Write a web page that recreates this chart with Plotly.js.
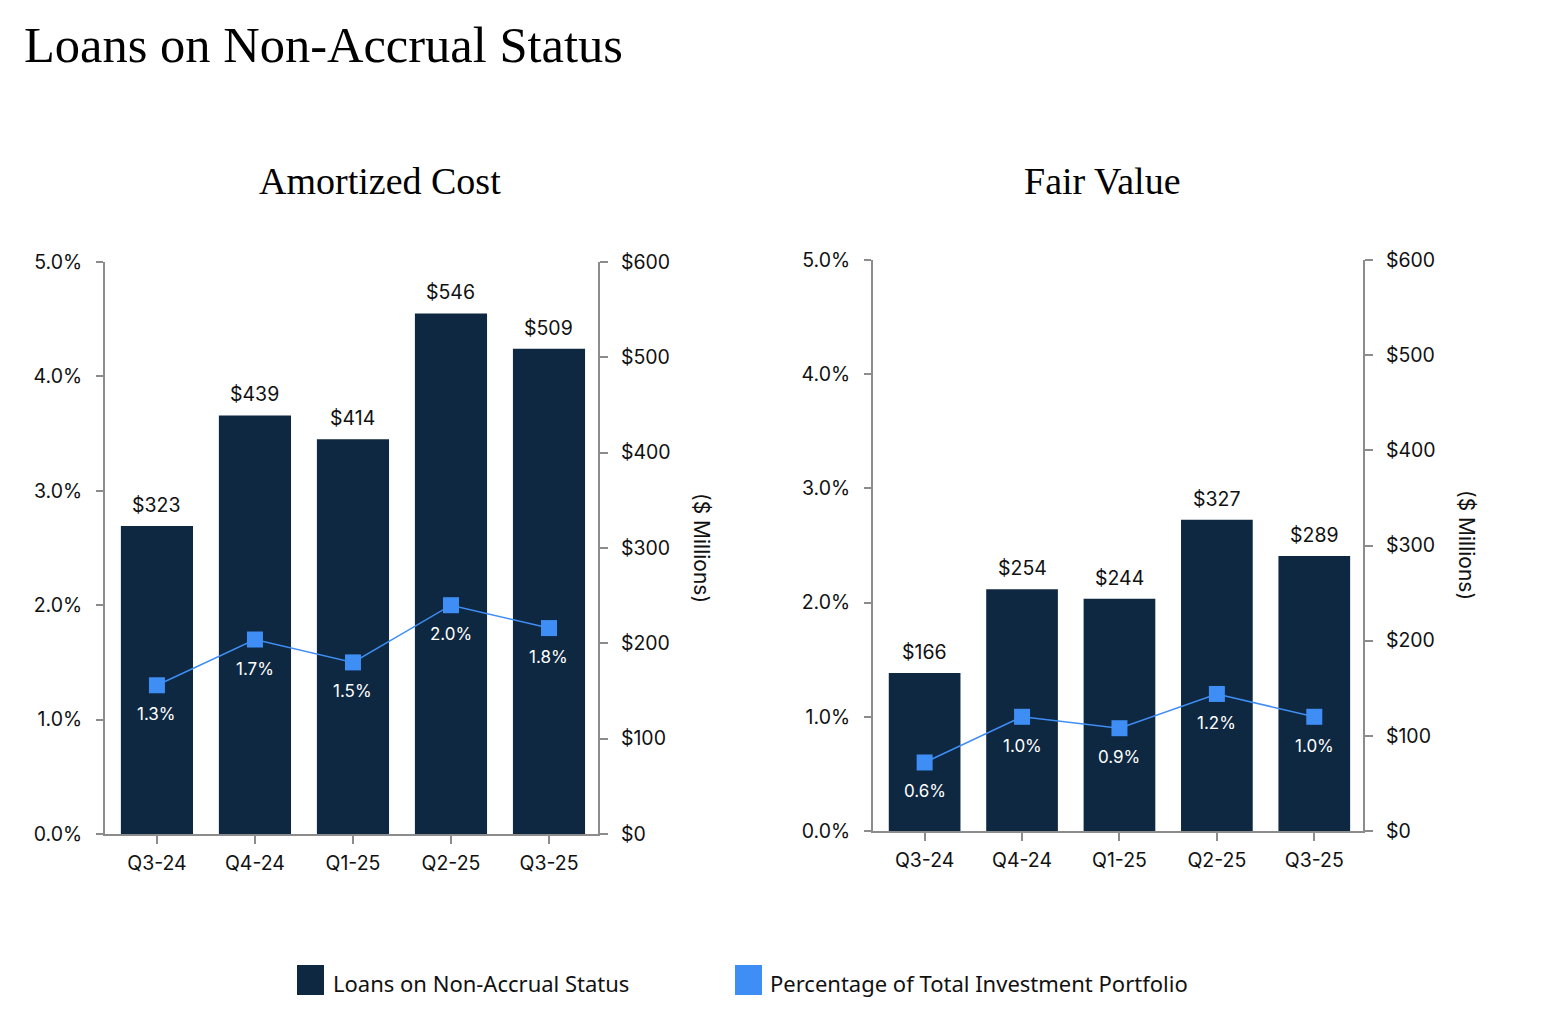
<!DOCTYPE html>
<html>
<head>
<meta charset="utf-8">
<script src="https://cdn.plot.ly/plotly-3.0.1.min.js"></script>
<style>
  html, body { margin: 0; padding: 0; background: #ffffff; }
  #chart { width: 1556px; height: 1032px; }
</style>
</head>
<body>
<div id="chart"></div>
<script>
// Quarterly periods
const quarters = ['Q3-24', 'Q4-24', 'Q1-25', 'Q2-25', 'Q3-25'];

// Amortized cost basis
const amortizedLoans = [323, 439, 414, 546, 509];   // $ millions
const amortizedPct = [1.3, 1.7, 1.5, 2.0, 1.8];     // % of total investment portfolio

// Fair value basis
const fairLoans = [166, 254, 244, 327, 289];        // $ millions
const fairPct = [0.6, 1.0, 0.9, 1.2, 1.0];          // % of total investment portfolio

const pctTicks = [0, 1, 2, 3, 4, 5];
const usdTicks = [0, 100, 200, 300, 400, 500, 600];

const BAR_COLOR = '#0E2841';
const LINE_COLOR = '#3F8EF5';
const AXIS_COLOR = '#8C8C8C';
const SANS = 'Inter, "Noto Sans", sans-serif';
const SERIF = '"Liberation Serif", "DejaVu Serif", serif';
const LEGEND_FONT = '"Noto Sans", Roboto, sans-serif';

const W = 1556, H = 1032;
const px = v => v / W;
const py = v => 1 - v / H;

function barTrace(vals, xa, ya) {
  return {
    type: 'bar', x: quarters, y: vals, xaxis: xa, yaxis: ya,
    marker: { color: BAR_COLOR }, hoverinfo: 'x+y', name: 'Loans on Non-Accrual Status'
  };
}
function lineTrace(vals, xa, ya) {
  return {
    type: 'scatter', mode: 'lines+markers', x: quarters, y: vals, xaxis: xa, yaxis: ya,
    line: { color: LINE_COLOR, width: 1.5 },
    marker: { symbol: 'square', size: 16, color: LINE_COLOR },
    name: 'Percentage of Total Investment Portfolio'
  };
}

const data = [
  barTrace(amortizedLoans, 'x', 'y'),
  lineTrace(amortizedPct, 'x', 'y2'),
  barTrace(fairLoans, 'x2', 'y3'),
  lineTrace(fairPct, 'x2', 'y4')
];

const tickCommon = {
  showline: true, linecolor: AXIS_COLOR, linewidth: 2,
  ticks: 'outside', tickcolor: AXIS_COLOR, tickwidth: 2,
  showgrid: false, zeroline: false, fixedrange: true,
  tickfont: { family: SANS, size: 19.5, color: '#111111' }
};

function xAxis(domain, anchor) {
  return Object.assign({}, tickCommon, {
    domain: domain, anchor: anchor, type: 'category', range: [-0.53, 4.5],
    ticklen: 8, ticklabelstandoff: 3
  });
}
function usdAxis(domain, anchor) {
  return Object.assign({}, tickCommon, {
    domain: domain, anchor: anchor, side: 'right', range: [0, 600],
    tickvals: usdTicks, ticktext: usdTicks.map(v => '$' + v),
    ticklen: 8, ticklabelstandoff: 9
  });
}
function pctAxis(overlay, anchor) {
  return Object.assign({}, tickCommon, {
    overlaying: overlay, anchor: anchor, side: 'left', range: [0, 5],
    tickvals: pctTicks, ticktext: pctTicks.map(v => v.toFixed(1) + '%'),
    ticklen: 7, ticklabelstandoff: 10
  });
}

const annotations = [];
function addLabels(xa, yUsd, yPct, loans, pcts) {
  quarters.forEach((q, i) => {
    annotations.push({
      xref: xa, yref: yUsd, x: q, y: loans[i], text: '$' + loans[i],
      showarrow: false, yanchor: 'bottom', yshift: 7,
      font: { family: SANS, size: 19.5, color: '#111111' }
    });
    annotations.push({
      xref: xa, yref: yPct, x: q, y: pcts[i], text: pcts[i].toFixed(1) + '%',
      showarrow: false, yanchor: 'middle', yshift: -29,
      font: { family: SANS, size: 17, color: '#FFFFFF' }
    });
  });
}
addLabels('x', 'y', 'y2', amortizedLoans, amortizedPct);
addLabels('x2', 'y3', 'y4', fairLoans, fairPct);

// Panel titles
annotations.push(
  { xref: 'paper', yref: 'paper', x: px(380), y: py(181), text: 'Amortized Cost', showarrow: false,
    xanchor: 'center', yanchor: 'middle', font: { family: SERIF, size: 38, color: '#000000' } },
  { xref: 'paper', yref: 'paper', x: px(1102), y: py(181), text: 'Fair Value', showarrow: false,
    xanchor: 'center', yanchor: 'middle', font: { family: SERIF, size: 38, color: '#000000' } }
);

// Right-axis unit labels, reading top to bottom
annotations.push(
  { xref: 'paper', yref: 'paper', x: px(702), y: py(548), text: '($ Millions)', showarrow: false,
    textangle: 90, xanchor: 'center', yanchor: 'middle', font: { family: SANS, size: 21, color: '#111111' } },
  { xref: 'paper', yref: 'paper', x: px(1467), y: py(545), text: '($ Millions)', showarrow: false,
    textangle: 90, xanchor: 'center', yanchor: 'middle', font: { family: SANS, size: 21, color: '#111111' } }
);

// Legend entries
annotations.push(
  { xref: 'paper', yref: 'paper', x: px(331), y: py(983), text: 'Loans on Non-Accrual Status', showarrow: false,
    xanchor: 'left', yanchor: 'middle', font: { family: LEGEND_FONT, size: 22, color: '#111111' } },
  { xref: 'paper', yref: 'paper', x: px(768), y: py(983), text: 'Percentage of Total Investment Portfolio', showarrow: false,
    xanchor: 'left', yanchor: 'middle', font: { family: LEGEND_FONT, size: 22, color: '#111111' } }
);
const shapes = [
  { type: 'rect', xref: 'paper', yref: 'paper', x0: px(297), x1: px(324), y0: py(995), y1: py(965),
    fillcolor: BAR_COLOR, line: { width: 0 } },
  { type: 'rect', xref: 'paper', yref: 'paper', x0: px(735), x1: px(762), y0: py(995), y1: py(965),
    fillcolor: LINE_COLOR, line: { width: 0 } }
];

const layout = {
  width: W, height: H,
  margin: { l: 0, r: 0, t: 0, b: 0 },
  paper_bgcolor: '#FFFFFF', plot_bgcolor: '#FFFFFF',
  showlegend: false,
  bargap: 0.264,
  title: {
    text: 'Loans on Non-Accrual Status',
    xref: 'paper', yref: 'paper', x: px(24), y: py(44), xanchor: 'left', yanchor: 'middle',
    font: { family: SERIF, size: 50.5, color: '#000000' }
  },
  xaxis: xAxis([px(105), px(598)], 'y'),
  yaxis: usdAxis([py(834), py(262)], 'x'),
  yaxis2: pctAxis('y', 'x'),
  xaxis2: xAxis([px(873), px(1363)], 'y3'),
  yaxis3: usdAxis([py(831), py(260)], 'x2'),
  yaxis4: pctAxis('y3', 'x2'),
  annotations: annotations,
  shapes: shapes
};

Plotly.newPlot('chart', data, layout, { displayModeBar: false, staticPlot: true });
</script>
</body>
</html>
